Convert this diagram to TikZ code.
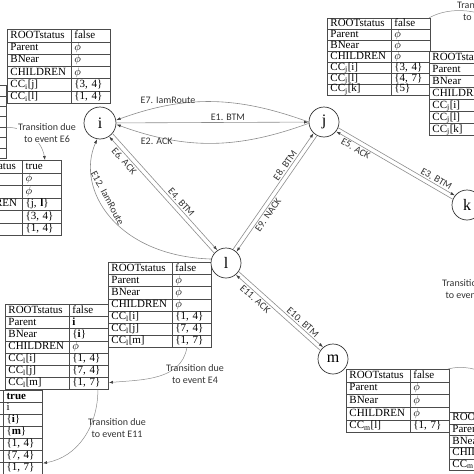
\documentclass[tikz,border=0pt]{standalone}
\usepackage{fontspec}
\setmainfont{Liberation Serif}
\newfontfamily\labelfont{Carlito}
\usetikzlibrary{matrix,arrows.meta,calc}

\newcommand{\tabfont}{\fontsize{11}{12}\selectfont}
\newcommand{\evfont}{\labelfont\fontsize{10}{11.5}\selectfont}

\begin{document}
\begin{tikzpicture}[x=1pt, y=-1pt,
  cell/.style={draw=black!70, line width=0.5pt, fill=white, inner xsep=3pt, inner ysep=0pt,
               text height=7.5pt, text depth=2.3pt, align=left, font=\tabfont},
  tbl/.style={matrix of nodes, nodes in empty cells, inner sep=0pt, anchor=north west,
              row sep=-0.5pt, column sep=-0.5pt,
              nodes={cell, minimum height=#1},
              column 1/.style={nodes={text width=58pt}},
              column 2/.style={nodes={text width=33pt}}},
  state/.style={circle, draw=black!80, line width=0.7pt, fill=white, minimum size=30pt,
                inner sep=0pt, font=\fontsize{16}{16}\selectfont},
  ev/.style={draw=black!45, line width=0.6pt, -{Latex[length=4.5pt, width=3pt, color=black!75]}},
  tr/.style={draw=black!45, line width=0.5pt, -{Latex[length=4pt, width=3pt, color=black!75]}},
  lbl/.style={font=\evfont, text=black!80, inner sep=1.5pt},
  trans/.style={font=\evfont, text=black!80, align=center, inner sep=1pt},
]
\useasboundingbox (0,0) rectangle (474,474);
\clip (0,0) rectangle (474,474);

% state tables of i
\matrix[tbl=10.4pt, anchor=north east] (tb) at (7,85) {
  & \\ & \\ & \\ & \\ & \\ & \\ & \\
};
\matrix[tbl=12.3pt] (ti) at (7,29) {
  ROOTstatus & false \\
  Parent & \(\phi\) \\
  BNear & \(\phi\) \\
  CHILDREN & \(\phi\) \\
  CC\textsubscript{i}[j] & \{3, 4\} \\
  CC\textsubscript{i}[l] & \{1, 4\} \\
};
\matrix[tbl=12.5pt, anchor=north east] (tt) at (62,160) {
  ROOTstatus & true \\
  Parent & \(\phi\) \\
  BNear & \(\phi\) \\
  CHILDREN & \{j, \textbf{l}\} \\
  CC\textsubscript{i}[j] & \{3, 4\} \\
  CC\textsubscript{i}[l] & \{1, 4\} \\
};

% state tables of l
\matrix[tbl=12.1pt] (tl1) at (108,262) {
  ROOTstatus & false \\
  Parent & \(\phi\) \\
  BNear & \(\phi\) \\
  CHILDREN & \(\phi\) \\
  CC\textsubscript{l}[i] & \{1, 4\} \\
  CC\textsubscript{l}[j] & \{7, 4\} \\
  CC\textsubscript{l}[m] & \{1, 7\} \\
};
\matrix[tbl=12.1pt] (tl2) at (5,304) {
  ROOTstatus & false \\
  Parent & \textbf{i} \\
  BNear & \{\textbf{i}\} \\
  CHILDREN & \(\phi\) \\
  CC\textsubscript{l}[i] & \{1, 4\} \\
  CC\textsubscript{l}[j] & \{7, 4\} \\
  CC\textsubscript{l}[m] & \{1, 7\} \\
};
\matrix[tbl=11.9pt, anchor=north east] (tl3) at (43,390) {
  ROOTstatus & \textbf{true} \\
  Parent & i \\
  BNear & \{\textbf{i}\} \\
  CHILDREN & \{\textbf{m}\} \\
  CC\textsubscript{l}[i] & \{1, 4\} \\
  CC\textsubscript{l}[j] & \{7, 4\} \\
  CC\textsubscript{l}[m] & \{1, 7\} \\
};

% state tables of j
\matrix[tbl=10.9pt] (tj1) at (327,18) {
  ROOTstatus & false \\
  Parent & \(\phi\) \\
  BNear & \(\phi\) \\
  CHILDREN & \(\phi\) \\
  CC\textsubscript{j}[i] & \{3, 4\} \\
  CC\textsubscript{j}[l] & \{4, 7\} \\
  CC\textsubscript{j}[k] & \{5\} \\
};
\matrix[tbl=12pt] (tj2) at (429,51) {
  ROOTstatus & false \\
  Parent & i \\
  BNear & \{i\} \\
  CHILDREN & \{\textbf{k}\} \\
  CC\textsubscript{j}[i] & \{3, 4\} \\
  CC\textsubscript{j}[l] & \{4, 7\} \\
  CC\textsubscript{j}[k] & \{5\} \\
};

% state tables of m
\matrix[tbl=12.6pt] (tm1) at (346,369) {
  ROOTstatus & false \\
  Parent & \(\phi\) \\
  BNear & \(\phi\) \\
  CHILDREN & \(\phi\) \\
  CC\textsubscript{m}[l] & \{1, 7\} \\
};
\matrix[tbl=11.6pt] (tm2) at (449,412) {
  ROOTstatus & false \\
  Parent & l \\
  BNear & \{l\} \\
  CHILDREN & \(\phi\) \\
  CC\textsubscript{m}[l] & \{1, 7\} \\
};

% nodes
\node[state, minimum size=32pt] (i) at (100,123) {i};
\node[state] (j) at (324,122) {j};
\node[state] (k) at (467,205) {k};
\node[state] (l) at (226,263) {l};
\node[state] (m) at (333,359) {m};

% events
\draw[ev] (i) -- node[lbl, above, pos=0.58] {E1. BTM} (j);
\draw[ev] (j.180) to[out=160, in=20] node[lbl, above, pos=0.74] {E7. IamRoute} (i.10);
\draw[ev] (j.185) to[out=-160, in=-20] node[lbl, below, pos=0.8] {E2. ACK} (i.-5);
\draw[ev] (i.-40) -- node[lbl, sloped, above, pos=0.62] {E4. BTM} (l.124);
\draw[ev] (l.140) -- node[lbl, sloped, below, pos=0.82] {E6. ACK} (i.-56);
\draw[ev] (l.165) .. controls +(-95,-3) and +(-22,50) ..
  node[lbl, sloped, above=3pt, pos=0.6] {E12. IamRoute} (i.-100);
\draw[ev] (l.63) -- node[lbl, sloped, above, pos=0.7] {E8. BTM} (j.227);
\draw[ev] (j.243) -- node[lbl, sloped, below, pos=0.66] {E9. NACK} (l.47);
\draw[ev] (j.-22) -- node[lbl, sloped, above, pos=0.82] {E3. BTM} (k.142);
\draw[ev] (k.158) -- node[lbl, sloped, below, pos=0.81] {E5. ACK} (j.-38);
\draw[ev] (l.-34) -- node[lbl, sloped, above, pos=0.72] {E10. BTM} (m.130);
\draw[ev] (m.146) -- node[lbl, sloped, below, pos=0.73] {E11. ACK} (l.-50);

% transitions
\draw[tr] ($(tb.east)+(0,5.5)$) to[out=0, in=100] ($(tt.north east)+(-17,0)$);
\node[trans, fill=white] (t6) at (47,133) {Transition due\\to event E6};
\draw[tr] ($(tl1.south east)+(-25,0)$) to[out=-100, in=5] ($(tl2.south east)+(0,-7)$);
\node[trans] (t4) at (195,374) {Transition due\\to event E4};
\draw[tr] ($(tl2.south east)+(-11,0)$) to[out=-90, in=10] ($(tl3.south east)+(0,-11)$);
\node[trans] (t11) at (117,428) {Transition due\\to event E11};
\draw[tr] ($(tj1.north east)+(-2,0)$) to[out=30, in=90] ($(tj2.north east)+(-20,0)$);
\node[trans] (t5) at (486,11) {Transition due\\to event E5};
\node[trans] (t10) at (471,289) {Transition due\\to event E10};
\draw[tr] ($(tm1.north east)+(-2,0)$) to[out=15, in=90] ($(tm2.north)+(10,0)$);
\end{tikzpicture}
\end{document}
